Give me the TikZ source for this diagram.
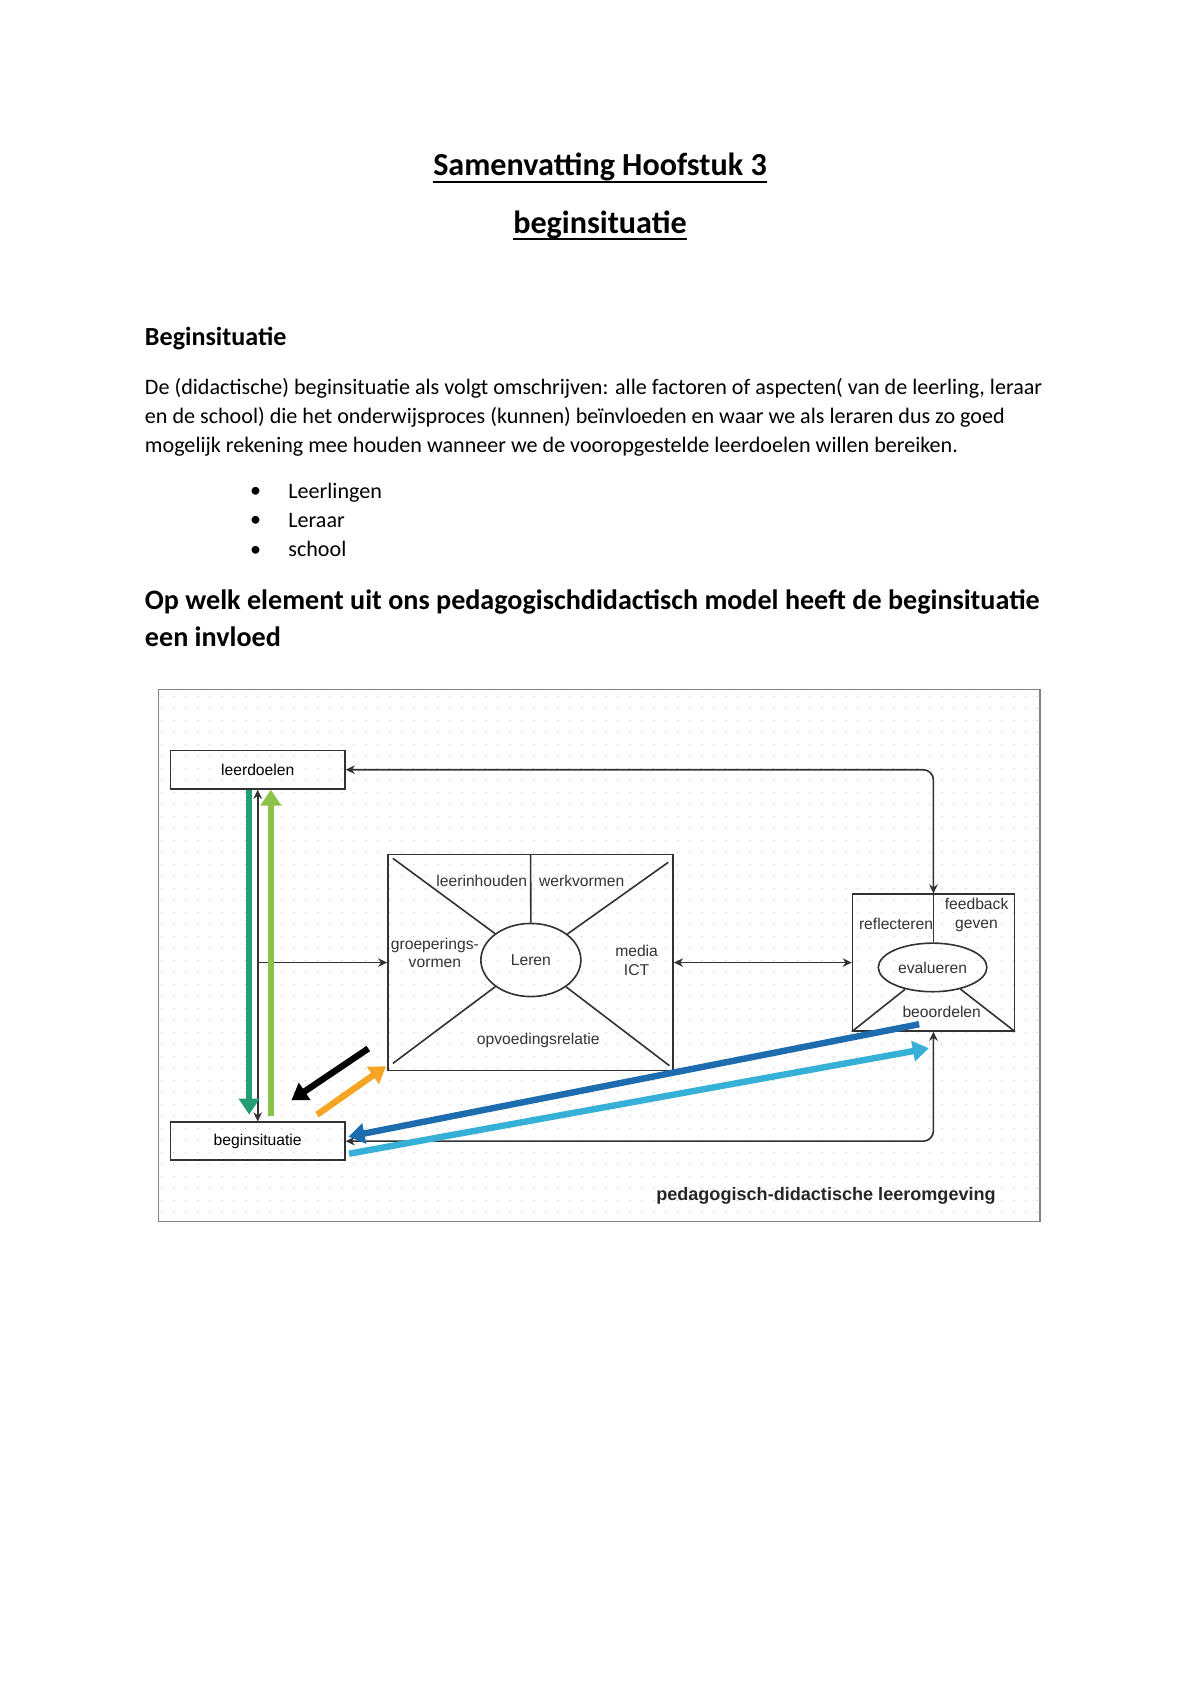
\documentclass[tikz,border=0pt]{standalone}
\usepackage{fontspec}
\setmainfont{Carlito}
\newfontfamily\drawfont{Liberation Sans}
\usetikzlibrary{arrows.meta, positioning, shapes.geometric, patterns.meta}

\definecolor{linegray}{RGB}{50,50,50}
\definecolor{framegray}{RGB}{130,130,130}
\definecolor{tealgreen}{RGB}{38,156,116}
\definecolor{leafgreen}{RGB}{138,194,74}
\definecolor{amber}{RGB}{245,165,35}
\definecolor{deepblue}{RGB}{30,108,176}
\definecolor{skyblue}{RGB}{54,176,214}

\tikzdeclarepattern{
  name=griddots,
  type=uncolored,
  bounding box={(0,0) and (0.21cm,0.21cm)},
  tile size={(0.21cm,0.21cm)},
  code={\fill (0.105cm,0.105cm) circle (0.35pt);}
}

\begin{document}
\begin{tikzpicture}[>={Stealth[length=1.6mm,width=1.5mm]},
  font=\drawfont\fontsize{7.8}{9.2}\selectfont,
  b/.style={draw=linegray, line width=0.8pt, inner sep=0pt},
  c/.style={draw=linegray, line width=0.8pt},
  t/.style={text=black!80, align=center, inner sep=0pt},
  fat/.style={line width=3.2pt, -{Triangle[width=10pt,length=8pt]}},
  ul/.style={line width=1pt},
  doc/.style={font=\normalfont\fontsize{11}{14.6}\selectfont, anchor=north west, align=left, inner sep=0pt}]
\useasboundingbox (0,0) rectangle (21,-29.715);
\fill[white] (0,0) rectangle (21,-29.715);

% page text
\node[anchor=base, inner sep=0pt, font=\normalfont\bfseries\fontsize{16}{19}\selectfont] (title) at (10.5,-3.08) {Samenvatting Hoofstuk 3};
\node[anchor=base, inner sep=0pt, font=\normalfont\bfseries\fontsize{16}{19}\selectfont] (subtitle) at (10.5,-4.09) {beginsituatie};
\draw[ul] ([yshift=-0.1cm]title.base west) -- ([yshift=-0.1cm]title.base east);
\draw[ul] ([yshift=-0.1cm]subtitle.base west) -- ([yshift=-0.1cm]subtitle.base east);
\node[anchor=base west, inner sep=0pt, font=\normalfont\bfseries\fontsize{13}{16}\selectfont] (head) at (2.53,-6.05) {Beginsituatie};
\node[doc] (intro) at (2.53,-6.61) {De (didactische) beginsituatie als volgt omschrijven: alle factoren of aspecten( van de leerling, leraar\\en de school) die het onderwijsproces (kunnen) beïnvloeden en waar we als leraren dus zo goed\\mogelijk rekening mee houden wanneer we de vooropgestelde leerdoelen willen bereiken.};
\node[doc, align=center] (bullets) at (4.37,-8.52) {\textbullet\\\textbullet\\\textbullet};
\node[doc] (items) at (5.04,-8.44) {Leerlingen\\Leraar\\school};
\node[doc, font=\normalfont\bfseries\fontsize{14}{18.7}\selectfont] (question) at (2.53,-10.31) {Op welk element uit ons pedagogischdidactisch model heeft de beginsituatie\\een invloed};

% diagram
\node[draw=framegray, line width=0.6pt, pattern=griddots, pattern color=black!22, minimum width=15.42cm, minimum height=9.31cm, inner sep=0pt] (env) at (10.49,-16.715) {};
\node[font=\drawfont\bfseries\fontsize{9}{11}\selectfont, t, text=black!85] (envlabel) at (14.455,-20.93) {pedagogisch-didactische leeromgeving};

\node[b, minimum width=3.05cm, minimum height=0.67cm] (leerdoelen) at (4.51,-13.47) {leerdoelen};
\node[b, minimum width=3.05cm, minimum height=0.66cm] (begin) at (4.51,-19.97) {beginsituatie};
\node[b, minimum width=4.99cm, minimum height=3.78cm] (model) at (9.285,-16.845) {};
\node[b, minimum width=2.83cm, minimum height=2.39cm] (eval) at (16.335,-16.845) {};
\node[b, ellipse, minimum width=1.75cm, minimum height=1.28cm, text=black!80] (leren) at (9.29,-16.80) {Leren};
\node[b, ellipse, minimum width=1.90cm, minimum height=0.85cm, text=black!80] (evalueren) at (16.32,-16.93) {evalueren};

\node[t] (inhoud) at (8.43,-15.41) {leerinhouden};
\node[t] (werk) at (10.18,-15.41) {werkvormen};
\node[t] (groep) at (7.61,-16.68) {groeperings-\\vormen};
\node[t] (media) at (11.14,-16.81) {media\\ICT};
\node[t] (relatie) at (9.42,-18.20) {opvoedingsrelatie};
\node[t] (reflect) at (15.68,-16.16) {reflecteren};
\node[t] (feedback) at (17.09,-16.01) {feedback\\geven};
\node[t] (oordeel) at (16.48,-17.70) {beoordelen};

% lines inside the boxes
\draw[c] (model.north) -- (leren.north);
\draw[c] ([shift={(0.1,-0.08)}]model.north west) -- (leren);
\draw[c] ([shift={(-0.1,-0.15)}]model.north east) -- (leren);
\draw[c] ([shift={(0.1,0.14)}]model.south west) -- (leren);
\draw[c] ([shift={(-0.08,0.1)}]model.south east) -- (leren);
\draw[c] (eval.north) -- (eval.north |- evalueren.north);
\draw[c] (eval.south west) -- (evalueren);
\draw[c] (eval.south east) -- (evalueren);

% connectors
\coordinate (split) at (leerdoelen.south |- model.west);
\draw[c, <->] (leerdoelen.south) -- (begin.north);
\draw[c, ->] (split) -- (model.west);
\draw[c, <->] (model.east) -- (eval.west);
\draw[c, <->, rounded corners=0.18cm] (leerdoelen.east) -| (eval.north);
\draw[c, <->, rounded corners=0.18cm] (begin.east) -| (eval.south);

% coloured arrows
\draw[fat, tealgreen, shorten >=0.12cm] ([xshift=-0.15cm]leerdoelen.south) -- ([xshift=-0.15cm]begin.north);
\draw[fat, leafgreen, shorten <=0.1cm] ([xshift=0.23cm]begin.north) -- ([xshift=0.23cm]leerdoelen.south);
\draw[fat, black] ([shift={(-0.33,0.4)}]model.south west) -- ([shift={(-0.95,0.37)}]begin.north east);
\draw[fat, amber] ([shift={(-0.5,0.12)}]begin.north east) -- ([shift={(-0.02,0.09)}]model.south west);
\draw[fat, deepblue] ([shift={(-0.25,0.13)}]eval.south) -- ([shift={(0.05,0.08)}]begin.east);
\draw[fat, skyblue] ([shift={(0.06,-0.22)}]begin.east) -- ([shift={(-0.08,-0.29)}]eval.south);
\end{tikzpicture}
\end{document}
